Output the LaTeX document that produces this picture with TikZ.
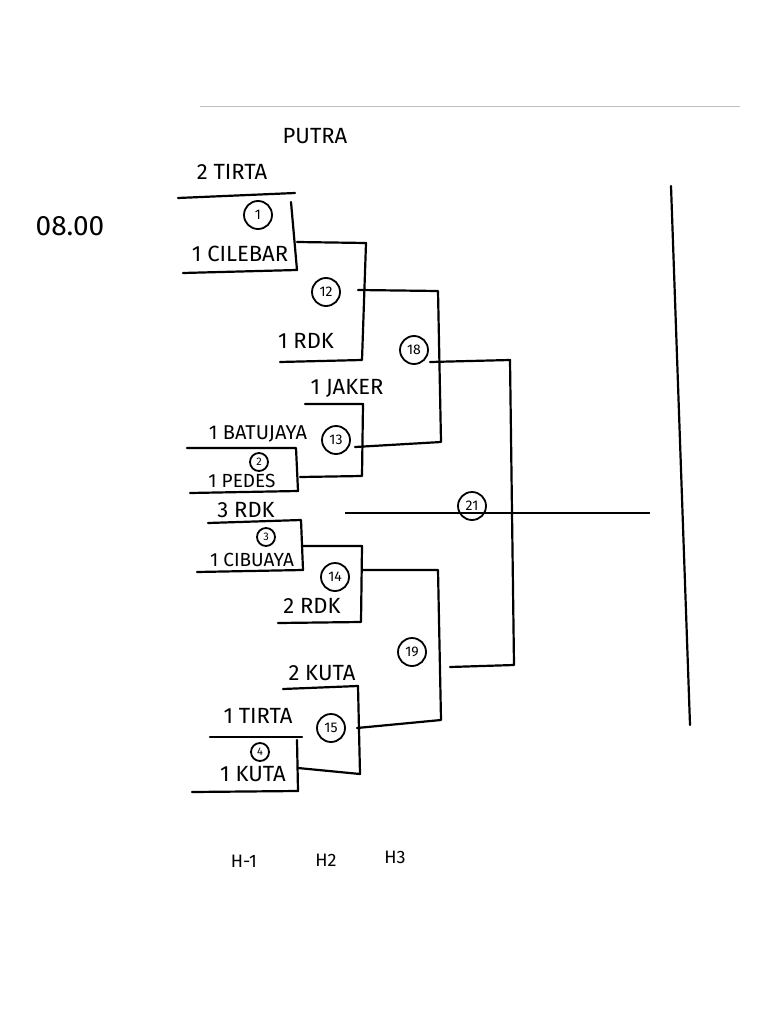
\documentclass[tikz,border=0pt]{standalone}
\usepackage{fontspec}
\setmainfont{Fira Sans}
\begin{document}
\begin{tikzpicture}[x=1pt,y=-1pt,
  ln/.style={line width=2.2pt,line join=round,line cap=round},
  lb/.style={font=\fontsize{22}{24}\selectfont,inner sep=0pt},
  num/.style={circle,draw,line width=1.8pt,minimum size=28pt,inner sep=0pt,font=\fontsize{14}{15}\selectfont}]
\useasboundingbox (0,0) rectangle (768,1024);
\fill[white] (0,0) rectangle (768,1024);
\draw[black!25,line width=1pt] (200,107) -- (740,107);
% titles
\node[lb] (putra) at (315,136) {PUTRA};
\node[lb] (time) at (70,226) {\fontsize{28}{30}\selectfont 08.00};
% box 1
\node[lb] (tirta2) at (232,172) {2 TIRTA};
\node[num] (m1) at (258,215) {1};
\node[lb] (cilebar) at (240,254) {1 CILEBAR};
\draw[ln] (178,198) -- (295,193);
\draw[ln] (291,202) -- (297,270) -- (183,273);
% match 12
\node[num] (m12) at (326,292) {12};
\node[lb] (rdk1) at (306,341) {1 RDK};
\draw[ln] (297,242) -- (366,243) -- (362,360) -- (280,362);
% match 18
\node[num] (m18) at (414,350) {18};
\draw[ln] (358,290) -- (438,291) -- (441,442) -- (355,447);
% match 13
\node[lb] (jaker) at (347,388) {1 JAKER};
\node[num] (m13) at (336,440) {13};
\draw[ln] (305,404) -- (363,404) -- (362,476) -- (300,477);
% box 2
\node[lb,font=\fontsize{20}{22}\selectfont] (batujaya) at (258,434) {1 BATUJAYA};
\node[num,minimum size=18pt,font=\fontsize{11}{12}\selectfont] (m2) at (259,462) {2};
\node[lb,font=\fontsize{19}{21}\selectfont] (pedes) at (242,481) {1 PEDES};
\draw[ln] (187,448) -- (296,448) -- (298,491) -- (190,493);
% match 21 and line
\node[num] (m21) at (472,506) {21};
\draw[line width=1.5pt] (345,513) -- (650,513);
\draw[ln] (430,362) -- (510,360) -- (514,665) -- (450,667);
% box 3
\node[lb] (rdk3) at (246,510) {3 RDK};
\node[num,minimum size=18pt,font=\fontsize{11}{12}\selectfont] (m3) at (266,537) {3};
\node[lb,font=\fontsize{19}{21}\selectfont] (cibuaya) at (252,560) {1 CIBUAYA};
\draw[ln] (208,523) -- (301,520) -- (303,570) -- (197,572);
% match 14
\node[num] (m14) at (335,577) {14};
\node[lb] (rdk2) at (312,606) {2 RDK};
\draw[ln] (303,546) -- (362,546) -- (361,622) -- (278,623);
% match 19
\node[num] (m19) at (412,652) {19};
\draw[ln] (363,570) -- (438,570) -- (441,720) -- (357,728);
% match 15
\node[lb] (kuta2) at (322,673) {2 KUTA};
\node[num] (m15) at (331,728) {15};
\draw[ln] (283,689) -- (358,686) -- (360,774) -- (298,768);
% box 4
\node[lb] (tirta1) at (258,716) {1 TIRTA};
\node[num,minimum size=18pt,font=\fontsize{11}{12}\selectfont] (m4) at (260,752) {4};
\node[lb] (kuta1) at (253,774) {1 KUTA};
\draw[ln] (210,737) -- (302,737);
\draw[ln] (297,740) -- (298,791) -- (192,792);
% big vertical line
\draw[ln] (671,186) -- (690,725);
% days
\node[lb,font=\fontsize{18}{20}\selectfont] (h1) at (244,861) {H-1};
\node[lb,font=\fontsize{18}{20}\selectfont] (h2) at (326,860) {H2};
\node[lb,font=\fontsize{18}{20}\selectfont] (h3) at (395,857) {H3};
\end{tikzpicture}
\end{document}
